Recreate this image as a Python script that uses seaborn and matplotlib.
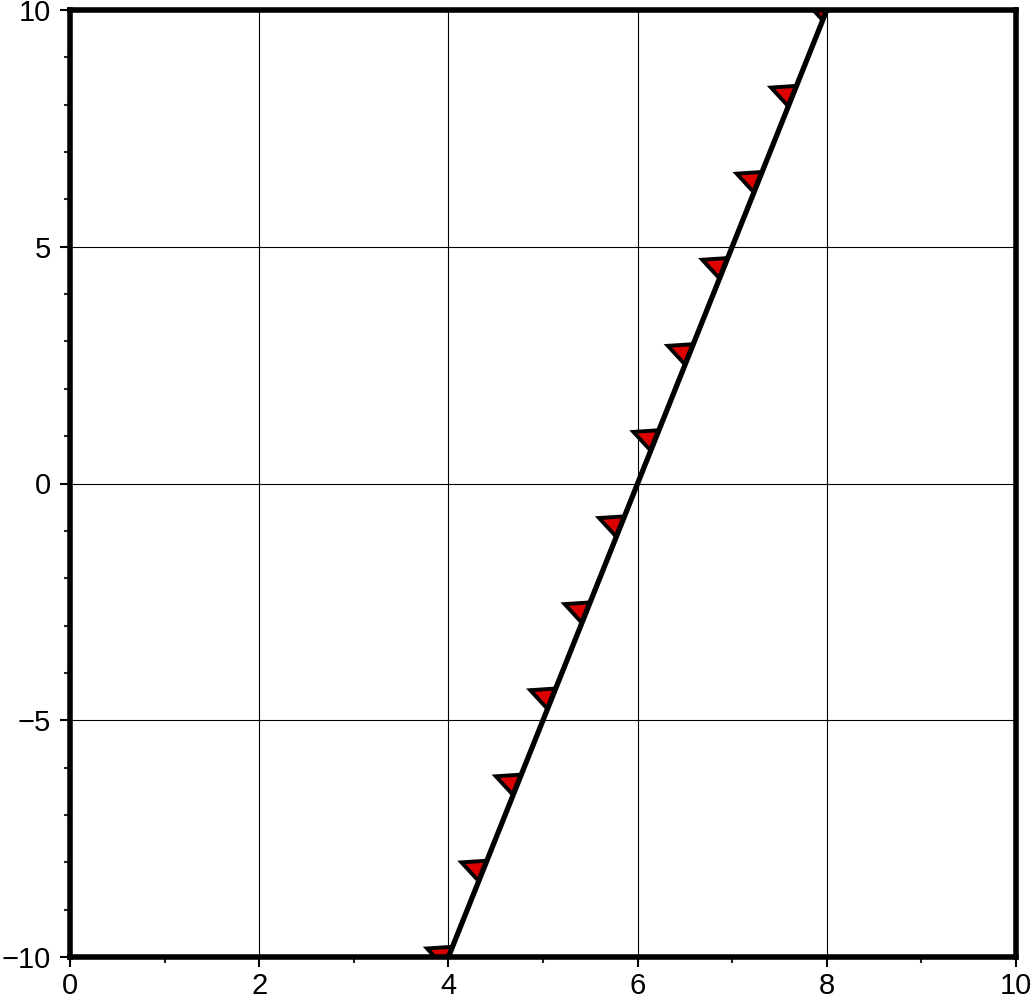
import numpy as np
import pandas as pd
import matplotlib
matplotlib.use("Agg")
import matplotlib.pyplot as plt
import seaborn as sns

# fault trace and front symbols
fault_x = [4.0, 8.0]
fault_y = [-10.0, 10.0]
n_symbols = 12          # triangles along the front, both ends included
tri_half_base = 11.0    # px
tri_height = 23.0       # px
tri_fill = "#dc0000"

x_ticks = [0, 2, 4, 6, 8, 10]
y_ticks = [-10, -5, 0, 5, 10]

sns.set_style("white")
plt.rcParams["font.family"] = ["Liberation Sans", "DejaVu Sans"]

fig = plt.figure(figsize=(10.32, 10.0), dpi=100)
ax = fig.add_axes([70 / 1032, 43 / 1000, 946 / 1032, 947 / 1000])
ax.set_xlim(0, 10)
ax.set_ylim(-10, 10)

df = pd.DataFrame({"x": fault_x, "y": fault_y})
sns.lineplot(data=df, x="x", y="y", ax=ax, color="black", linewidth=3.8,
             zorder=4, solid_capstyle="butt")

# triangles on the left side of the trace, built in display space
fig.canvas.draw()
p0 = ax.transData.transform((fault_x[0], fault_y[0]))
p1 = ax.transData.transform((fault_x[1], fault_y[1]))
d = (p1 - p0) / np.hypot(*(p1 - p0))
nrm = np.array([-d[1], d[0]])
inv = ax.transData.inverted()
for f in np.linspace(0, 1, n_symbols):
    c = p0 + f * (p1 - p0)
    pts = np.array([c - tri_half_base * d, c + tri_half_base * d, c + tri_height * nrm])
    pts = inv.transform(pts)
    ax.fill(pts[:, 0], pts[:, 1], facecolor=tri_fill, edgecolor="black",
            linewidth=2.8, joinstyle="miter", zorder=3)

ax.set_xticks(x_ticks)
ax.set_yticks(y_ticks)
ax.set_xticks(np.arange(0, 11, 1), minor=True)
ax.set_yticks(np.arange(-10, 11, 1), minor=True)
ax.grid(True, which="major", color="black", linewidth=0.8)
ax.set_axisbelow(True)
ax.tick_params(which="major", direction="out", length=7.5, width=1.5, labelsize=21,
               colors="black")
ax.tick_params(axis="x", which="major", pad=3)
ax.tick_params(axis="y", which="major", pad=6)
ax.tick_params(which="minor", direction="out", length=4.5, width=1.5)
ax.tick_params(top=False, right=False, bottom=True, left=True, which="both")
for s in ax.spines.values():
    s.set_visible(True)
    s.set_color("black")
    s.set_linewidth(4.0)
    s.set_zorder(6)
ax.set_xlabel("")
ax.set_ylabel("")

fig.savefig("out.png", dpi=100)
